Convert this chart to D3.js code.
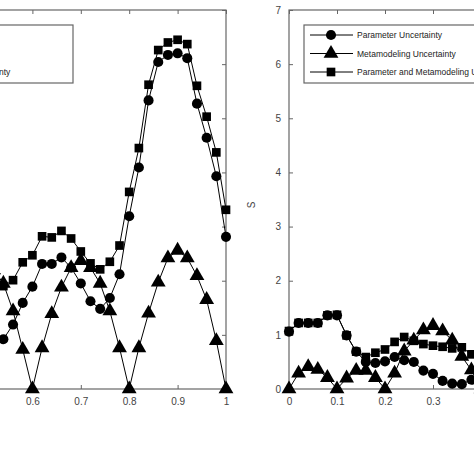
<!DOCTYPE html>
<html><head><meta charset="utf-8">
<script src="https://cdn.jsdelivr.net/npm/d3@7"></script>
<style>body{margin:0;background:#fff}</style></head>
<body><svg id="c" width="474" height="474"></svg>
<script>
const leftX = [0.52,0.54,0.56,0.58,0.60,0.62,0.64,0.66,0.68,0.70,0.72,0.74,0.76,0.78,0.80,0.82,0.84,0.86,0.88,0.90,0.92,0.94,0.96,0.98,1.00];
const leftParam = [0.8,0.92,1.19,1.59,1.89,2.31,2.31,2.43,2.24,1.95,1.62,1.48,1.68,2.12,3.19,4.09,5.33,6.04,6.17,6.2,6.11,5.27,4.64,3.93,2.81];
const leftMeta = [2.2,1.95,1.44,0.73,0,0.76,1.39,1.88,2.24,2.37,2.24,1.95,1.44,0.76,0,0.76,1.4,1.97,2.42,2.56,2.42,2.09,1.65,0.89,0];
const leftBoth = [1.9,1.9,2.01,2.34,2.47,2.82,2.8,2.92,2.78,2.54,2.32,2.21,2.35,2.65,3.64,4.45,5.62,6.26,6.4,6.45,6.37,5.6,5.03,4.37,3.31];
const rightX = [0,0.02,0.04,0.06,0.08,0.10,0.12,0.14,0.16,0.18,0.20,0.22,0.24,0.26,0.28,0.30,0.32,0.34,0.36,0.38,0.40];
const rightParam = [1.06,1.22,1.22,1.22,1.36,1.36,0.99,0.69,0.5,0.48,0.51,0.59,0.53,0.5,0.34,0.28,0.15,0.1,0.09,0.17,0.3];
const rightMeta = [0,0.29,0.41,0.36,0.21,0,0.2,0.34,0.34,0.21,0,0.29,0.7,0.9,1.09,1.17,1.07,0.9,0.6,0.35,0];
const rightBoth = [1.07,1.22,1.22,1.22,1.36,1.37,0.99,0.69,0.59,0.67,0.73,0.87,0.96,0.89,0.83,0.8,0.78,0.75,0.77,0.64,0.55];
const xTicks = [0,0.1,0.2,0.3,0.4,0.5,0.6,0.7,0.8,0.9,1];
const yTicks = [0,1,2,3,4,5,6,7];
const legendLabels = ["Parameter Uncertainty","Metamodeling Uncertainty","Parameter and Metamodeling Uncertainty"];
const markers = [d3.symbolCircle, d3.symbolTriangle, d3.symbolSquare];
const markerSize = [80, 95, 75];

const svg = d3.select("#c");
const font = "Arial, 'Liberation Sans', sans-serif";
const ax = "#666";

function panel(xr, xs, series, yLabels, legendX, legendW, showLegendText) {
  const x = d3.scaleLinear().domain([0,1]).range(xr);
  const y = d3.scaleLinear().domain([0,7]).range([389,10]);
  const g = svg.append("g");
  g.append("rect").attr("x",x(0)).attr("y",y(7)).attr("width",x(1)-x(0)).attr("height",y(0)-y(7))
    .attr("fill","none").attr("stroke",ax).attr("stroke-width",1.2);
  const bx = g.append("g").attr("transform","translate(0,389)")
    .call(d3.axisBottom(x).tickValues(xTicks).tickSize(-4).tickPadding(9).tickFormat(d3.format("")));
  const tx = g.append("g").attr("transform","translate(0,10)")
    .call(d3.axisTop(x).tickValues(xTicks).tickSize(-4).tickFormat(""));
  const ly = g.append("g").attr("transform",`translate(${x(0)},0)`)
    .call(d3.axisLeft(y).tickValues(yTicks).tickSize(-4).tickPadding(8).tickFormat(yLabels?d3.format(""):""));
  const ry = g.append("g").attr("transform",`translate(${x(1)},0)`)
    .call(d3.axisRight(y).tickValues(yTicks).tickSize(-4).tickFormat(""));
  [bx,tx,ly,ry].forEach(a=>{a.select(".domain").remove();a.selectAll("line").attr("stroke",ax);
    a.selectAll("text").attr("font-family",font).attr("font-size",10).attr("fill","#444");});
  const line = d3.line().x((d,i)=>x(xs[i])).y(d=>y(d));
  series.forEach((s,k)=>{
    g.append("path").attr("d",line(s)).attr("fill","none").attr("stroke","#000").attr("stroke-width",1);
    g.selectAll(null).data(s).enter().append("path")
      .attr("transform",(d,i)=>`translate(${x(xs[i])},${y(d)})`)
      .attr("d",d3.symbol().type(markers[k]).size(markerSize[k])).attr("fill","#000");
  });
  const lg = g.append("g");
  lg.append("rect").attr("x",legendX).attr("y",25).attr("width",legendW).attr("height",58)
    .attr("fill","#fff").attr("stroke",ax).attr("stroke-width",1.2);
  if (showLegendText) {
    legendLabels.forEach((t,k)=>{
      const yy = 35 + k*18.5;
      lg.append("line").attr("x1",legendX+6).attr("x2",legendX+49).attr("y1",yy).attr("y2",yy).attr("stroke","#000");
      lg.append("path").attr("transform",`translate(${legendX+27},${yy})`)
        .attr("d",d3.symbol().type(markers[k]).size(markerSize[k])).attr("fill","#000");
      lg.append("text").attr("x",legendX+53).attr("y",yy+3).attr("font-family",font).attr("font-size",8.5).attr("fill","#222").text(t);
    });
  }
  if (yLabels) {
    g.append("text").attr("transform",`translate(${x(0)-34},${y(3.4)}) rotate(-90)`).attr("text-anchor","middle")
      .attr("font-family",font).attr("font-size",10).attr("fill","#444").text("S");
  }
}
panel([33-6*48.5, 226], leftX, [leftParam,leftMeta,leftBoth], false, -200, 273, true);
panel([289, 769], rightX, [rightParam,rightMeta,rightBoth], true, 304, 260, true);
</script>
</body></html>
